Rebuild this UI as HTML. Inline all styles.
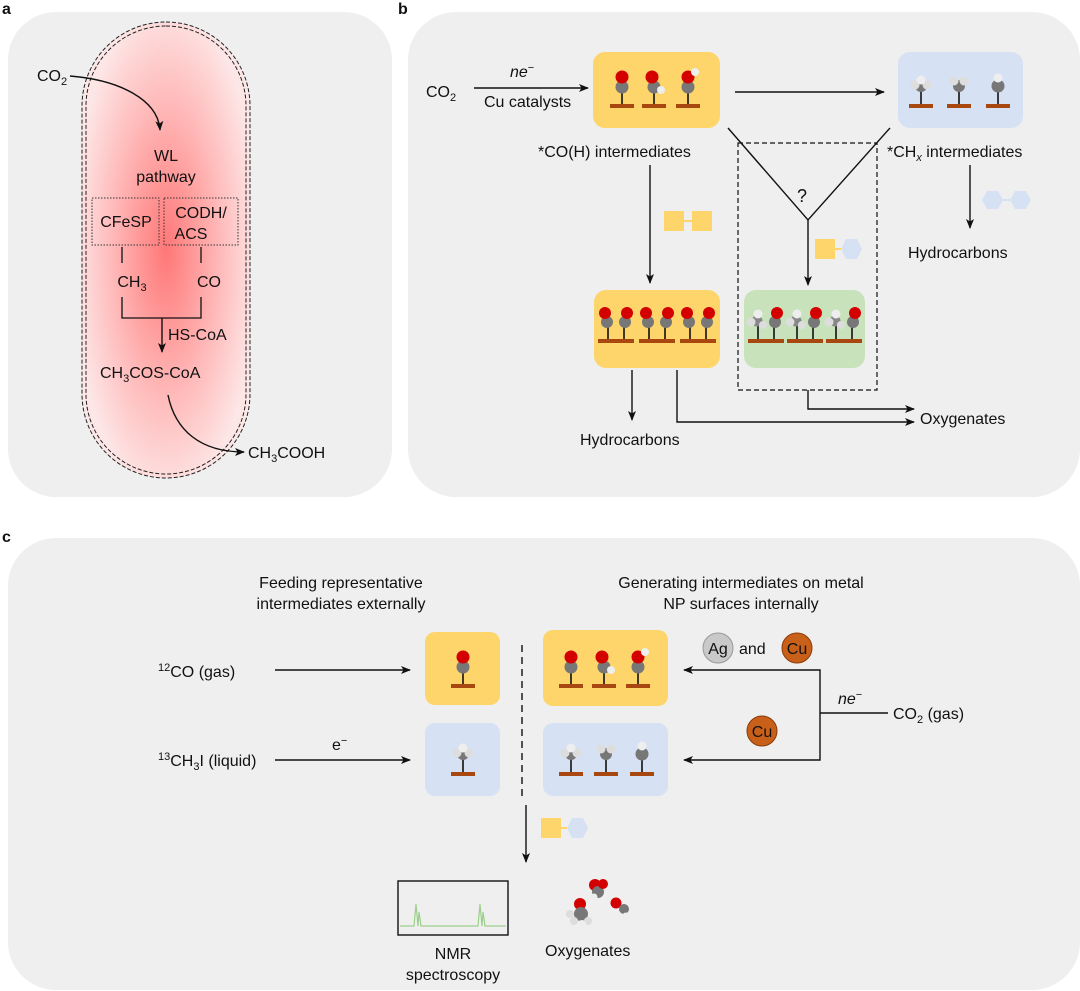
<!DOCTYPE html>
<html><head><meta charset="utf-8"><style>
body{margin:0;background:#fff}
svg{display:block;font-family:"Liberation Sans",Arial,sans-serif}
text{fill:#111}
</style></head><body>
<svg width="1080" height="991" viewBox="0 0 1080 991" xmlns="http://www.w3.org/2000/svg">
<defs>
<marker id="ah" markerWidth="10" markerHeight="8" refX="9" refY="4" orient="auto" markerUnits="userSpaceOnUse"><path d="M0,0 L10,4 L0,8 L2.5,4 z" fill="#111"/></marker>
<radialGradient id="rg" cx="50%" cy="50%" r="55%"><stop offset="0" stop-color="#f77"/><stop offset="0.6" stop-color="#fbb"/><stop offset="1" stop-color="#fde6e6"/></radialGradient>
<g id="base"><rect x="-12" y="0" width="24" height="4" fill="#a8470f"/><line x1="0" y1="0" x2="0" y2="-13" stroke="#111" stroke-width="1.6"/></g>
<g id="co"><use href="#base"/><circle cy="-17" r="6.5" fill="#777"/><circle cy="-27" r="6.5" fill="#d40000"/></g>
<g id="cho"><use href="#base"/><circle cy="-17" r="6.5" fill="#777"/><circle cx="-2" cy="-27" r="6.5" fill="#d40000"/><circle cx="7" cy="-14" r="4" fill="#eee"/></g>
<g id="coh"><use href="#base"/><circle cy="-17" r="6.5" fill="#777"/><circle cy="-27" r="6.5" fill="#d40000"/><circle cx="7" cy="-32" r="4" fill="#eee"/></g>
<g id="ch3"><use href="#base"/><circle cy="-18" r="6" fill="#777"/><circle cx="-6" cy="-19" r="4.5" fill="#ddd"/><circle cx="6" cy="-19" r="4.5" fill="#ddd"/><circle cy="-24" r="4.5" fill="#eee"/></g>
<g id="ch2"><use href="#base"/><circle cy="-18" r="6" fill="#777"/><circle cx="-5" cy="-23" r="4.5" fill="#ddd"/><circle cx="5" cy="-23" r="4.5" fill="#ddd"/></g>
<g id="ch"><use href="#base"/><circle cy="-18" r="6.5" fill="#777"/><circle cy="-26" r="4.5" fill="#eee"/></g>
<g id="coco"><rect x="-18" y="0" width="36" height="4" fill="#a8470f"/><line x1="-8" y1="0" x2="-8" y2="-13" stroke="#111" stroke-width="1.6"/><line x1="8" y1="0" x2="8" y2="-13" stroke="#111" stroke-width="1.6"/><circle cx="-9" cy="-17" r="6" fill="#777"/><circle cx="9" cy="-17" r="6" fill="#777"/><circle cx="-11" cy="-26" r="6" fill="#d40000"/><circle cx="11" cy="-26" r="6" fill="#d40000"/></g>
<g id="chco"><rect x="-18" y="0" width="36" height="4" fill="#a8470f"/><line x1="-8" y1="0" x2="-8" y2="-13" stroke="#111" stroke-width="1.6"/><line x1="8" y1="0" x2="8" y2="-13" stroke="#111" stroke-width="1.6"/><circle cx="-9" cy="-18" r="5.5" fill="#888"/><circle cx="-15" cy="-17" r="4.5" fill="#ddd"/><circle cx="-8" cy="-25" r="4.5" fill="#eee"/><circle cx="-3" cy="-14" r="4" fill="#ddd"/><circle cx="9" cy="-17" r="6" fill="#777"/><circle cx="11" cy="-26" r="6" fill="#d40000"/></g>
<g id="sqsq"><rect x="0" y="0" width="20" height="20" fill="#fdd56a"/><rect x="20" y="9" width="8" height="2" fill="#fdd56a"/><rect x="28" y="0" width="20" height="20" fill="#fdd56a"/></g>
<g id="sqhx"><rect x="0" y="0" width="20" height="20" fill="#fdd56a"/><rect x="20" y="9" width="6" height="2" fill="#fdd56a"/><polygon points="26,10 31,0 42,0 47,10 42,20 31,20" fill="#d6e2f4"/></g>
</defs>

<rect x="8" y="12" width="384" height="485" rx="48" fill="#efefef"/>
<rect x="408" y="12" width="672" height="485" rx="48" fill="#efefef"/>
<rect x="8" y="538" width="1072" height="452" rx="48" fill="#efefef"/>
<text x="2" y="14" font-size="16" font-weight="bold">a</text>
<text x="398" y="14" font-size="16" font-weight="bold">b</text>
<text x="2" y="542" font-size="16" font-weight="bold">c</text>

<!-- Panel a -->
<rect x="82" y="22" width="168" height="456" rx="84" fill="url(#rg)"/>
<rect x="82" y="22" width="168" height="456" rx="84" fill="none" stroke="#222" stroke-dasharray="4,2" stroke-width="1"/>
<rect x="86" y="26" width="160" height="448" rx="80" fill="none" stroke="#222" stroke-dasharray="4,2" stroke-width="1"/>
<g font-size="16" text-anchor="middle">
<text x="37" y="81" text-anchor="start">CO<tspan font-size="11" dy="4">2</tspan></text>
<path d="M70,76 C120,80 158,100 160,130" fill="none" stroke="#111" stroke-width="1.4" marker-end="url(#ah)"/>
<text x="166" y="161">WL</text>
<text x="166" y="182">pathway</text>
<rect x="92" y="198" width="67" height="47" fill="none" stroke="#333" stroke-dasharray="1.5,1.5"/>
<rect x="164" y="198" width="74" height="47" fill="none" stroke="#333" stroke-dasharray="1.5,1.5"/>
<text x="126" y="227">CFeSP</text>
<text x="201" y="218">CODH/</text>
<text x="191" y="239">ACS</text>
<line x1="122" y1="247" x2="122" y2="263" stroke="#111" stroke-width="1.3"/>
<line x1="201" y1="247" x2="201" y2="263" stroke="#111" stroke-width="1.3"/>
<text x="132" y="287">CH<tspan font-size="11" dy="4">3</tspan></text>
<text x="209" y="287">CO</text>
<path d="M122,297 V318 H201 V297" fill="none" stroke="#111" stroke-width="1.3"/>
<line x1="162" y1="318" x2="162" y2="352" stroke="#111" stroke-width="1.4" marker-end="url(#ah)"/>
<text x="168" y="340" text-anchor="start">HS-CoA</text>
<text x="100" y="378" text-anchor="start">CH<tspan font-size="11" dy="4">3</tspan><tspan dy="-4">COS-CoA</tspan></text>
<path d="M168,395 C175,430 200,452 244,452" fill="none" stroke="#111" stroke-width="1.4" marker-end="url(#ah)"/>
<text x="248" y="458" text-anchor="start">CH<tspan font-size="11" dy="4">3</tspan><tspan dy="-4">COOH</tspan></text>
</g>

<!-- Panel b -->
<g font-size="16">
<text x="426" y="97">CO<tspan font-size="11" dy="4">2</tspan></text>
<text x="510" y="77" font-style="italic">ne<tspan font-style="normal" dy="-6" font-size="11">−</tspan></text>
<text x="484" y="107">Cu catalysts</text>
<line x1="474" y1="88" x2="588" y2="88" stroke="#111" stroke-width="1.4" marker-end="url(#ah)"/>
<rect x="593" y="52" width="127" height="76" rx="12" fill="#fdd56a"/>
<use href="#co" x="622" y="104"/><use href="#cho" x="654" y="104"/><use href="#coh" x="688" y="104"/>
<line x1="735" y1="92" x2="884" y2="92" stroke="#111" stroke-width="1.4" marker-end="url(#ah)"/>
<rect x="898" y="52" width="125" height="76" rx="12" fill="#d6e2f4"/>
<use href="#ch3" x="921" y="104"/><use href="#ch2" x="959" y="104"/><use href="#ch" x="998" y="104"/>
<text x="538" y="157">*CO(H) intermediates</text>
<text x="887" y="157">*CH<tspan font-size="11" dy="4" font-style="italic">x</tspan><tspan dy="-4"> intermediates</tspan></text>
<line x1="650" y1="165" x2="650" y2="283" stroke="#111" stroke-width="1.4" marker-end="url(#ah)"/>
<use href="#sqsq" x="664" y="211"/>
<rect x="738" y="143" width="139" height="247" fill="none" stroke="#111" stroke-dasharray="5,3" stroke-width="1.2"/>
<path d="M728,128 L808,220 L890,128" fill="none" stroke="#111" stroke-width="1.4"/>
<text x="797" y="202" font-size="18">?</text>
<line x1="808" y1="220" x2="808" y2="285" stroke="#111" stroke-width="1.4" marker-end="url(#ah)"/>
<use href="#sqhx" x="815" y="239"/>
<rect x="594" y="290" width="126" height="78" rx="12" fill="#fdd56a"/>
<use href="#coco" x="616" y="339"/><use href="#coco" x="657" y="339"/><use href="#coco" x="698" y="339"/>
<rect x="744" y="290" width="121" height="78" rx="12" fill="#c8e2bc"/>
<use href="#chco" x="766" y="339"/><use href="#chco" x="805" y="339"/><use href="#chco" x="844" y="339"/>
<line x1="970" y1="165" x2="970" y2="228" stroke="#111" stroke-width="1.4" marker-end="url(#ah)"/>
<polygon points="982,200 987,191 998,191 1003,200 998,209 987,209" fill="#d6e2f4"/>
<rect x="1003" y="199" width="7" height="2" fill="#d6e2f4"/>
<polygon points="1010,200 1015,191 1026,191 1031,200 1026,209 1015,209" fill="#d6e2f4"/>
<text x="908" y="258">Hydrocarbons</text>
<line x1="632" y1="370" x2="632" y2="420" stroke="#111" stroke-width="1.4" marker-end="url(#ah)"/>
<text x="580" y="445">Hydrocarbons</text>
<path d="M677,370 V422 H914" fill="none" stroke="#111" stroke-width="1.4" marker-end="url(#ah)"/>
<path d="M808,390 V409 H914" fill="none" stroke="#111" stroke-width="1.4" marker-end="url(#ah)"/>
<text x="920" y="424">Oxygenates</text>
</g>

<!-- Panel c -->
<g font-size="16">
<text x="341" y="588" text-anchor="middle">Feeding representative</text>
<text x="341" y="609" text-anchor="middle">intermediates externally</text>
<text x="741" y="588" text-anchor="middle">Generating intermediates on metal</text>
<text x="741" y="609" text-anchor="middle">NP surfaces internally</text>
<rect x="425" y="632" width="75" height="73" rx="10" fill="#fdd56a"/>
<use href="#co" x="463" y="684"/>
<rect x="543" y="630" width="125" height="76" rx="10" fill="#fdd56a"/>
<use href="#co" x="571" y="684"/><use href="#cho" x="604" y="684"/><use href="#coh" x="638" y="684"/>
<rect x="425" y="723" width="75" height="73" rx="10" fill="#d6e2f4"/>
<use href="#ch3" x="463" y="772"/>
<rect x="543" y="723" width="125" height="73" rx="10" fill="#d6e2f4"/>
<use href="#ch3" x="571" y="772"/><use href="#ch2" x="606" y="772"/><use href="#ch" x="642" y="772"/>
<line x1="522" y1="645" x2="522" y2="800" stroke="#111" stroke-dasharray="7,5" stroke-width="1.4"/>
<text x="158" y="677"><tspan font-size="11" dy="-6">12</tspan><tspan dy="6">CO (gas)</tspan></text>
<line x1="275" y1="670" x2="410" y2="670" stroke="#111" stroke-width="1.4" marker-end="url(#ah)"/>
<text x="158" y="766"><tspan font-size="11" dy="-6">13</tspan><tspan dy="6">CH</tspan><tspan font-size="11" dy="4">3</tspan><tspan dy="-4">I (liquid)</tspan></text>
<line x1="275" y1="760" x2="410" y2="760" stroke="#111" stroke-width="1.4" marker-end="url(#ah)"/>
<text x="332" y="750">e<tspan font-size="11" dy="-6">−</tspan></text>
<circle cx="718" cy="648" r="15" fill="#c9c9c9" stroke="#999"/>
<text x="718" y="654" text-anchor="middle">Ag</text>
<text x="739" y="654">and</text>
<circle cx="797" cy="648" r="15" fill="#c8601a" stroke="#8a3a08"/>
<text x="797" y="654" text-anchor="middle">Cu</text>
<path d="M820,713 V670 H684" fill="none" stroke="#111" stroke-width="1.4" marker-end="url(#ah)"/>
<path d="M820,713 V760 H684" fill="none" stroke="#111" stroke-width="1.4" marker-end="url(#ah)"/>
<line x1="820" y1="713" x2="888" y2="713" stroke="#111" stroke-width="1.4"/>
<text x="838" y="704" font-style="italic">ne<tspan font-style="normal" dy="-6" font-size="11">−</tspan></text>
<text x="893" y="719">CO<tspan font-size="11" dy="4">2</tspan><tspan dy="-4"> (gas)</tspan></text>
<circle cx="762" cy="731" r="15" fill="#c8601a" stroke="#8a3a08"/>
<text x="762" y="737" text-anchor="middle">Cu</text>
<line x1="526" y1="805" x2="526" y2="862" stroke="#111" stroke-width="1.4" marker-end="url(#ah)"/>
<use href="#sqhx" x="541" y="818"/>
<rect x="398" y="881" width="110" height="54" fill="none" stroke="#111" stroke-width="1.4"/>
<path d="M400,926 H414 L416,904 L418,926 L419,912 L421,926 H478 L480,904 L482,926 L483,912 L485,926 H506" fill="none" stroke="#9ccf8a" stroke-width="1.2"/>
<text x="453" y="959" text-anchor="middle">NMR</text>
<text x="453" y="980" text-anchor="middle">spectroscopy</text>
<text x="545" y="956">Oxygenates</text>
<circle cx="595" cy="885" r="6" fill="#d40000"/><circle cx="598" cy="892" r="6" fill="#777"/><circle cx="603" cy="884" r="5" fill="#d40000"/><circle cx="594" cy="897" r="3.5" fill="#eee"/>
<circle cx="580" cy="904" r="6" fill="#d40000"/><circle cx="581" cy="914" r="7" fill="#777"/><circle cx="570" cy="914" r="4" fill="#ddd"/><circle cx="574" cy="921" r="4" fill="#ddd"/><circle cx="588" cy="921" r="4" fill="#ddd"/><circle cx="582" cy="924" r="4" fill="#eee"/>
<circle cx="616" cy="903" r="5.5" fill="#d40000"/><circle cx="624" cy="909" r="5" fill="#777"/><circle cx="626" cy="916" r="3.5" fill="#eee"/>
</g>
</svg>
</body></html>
